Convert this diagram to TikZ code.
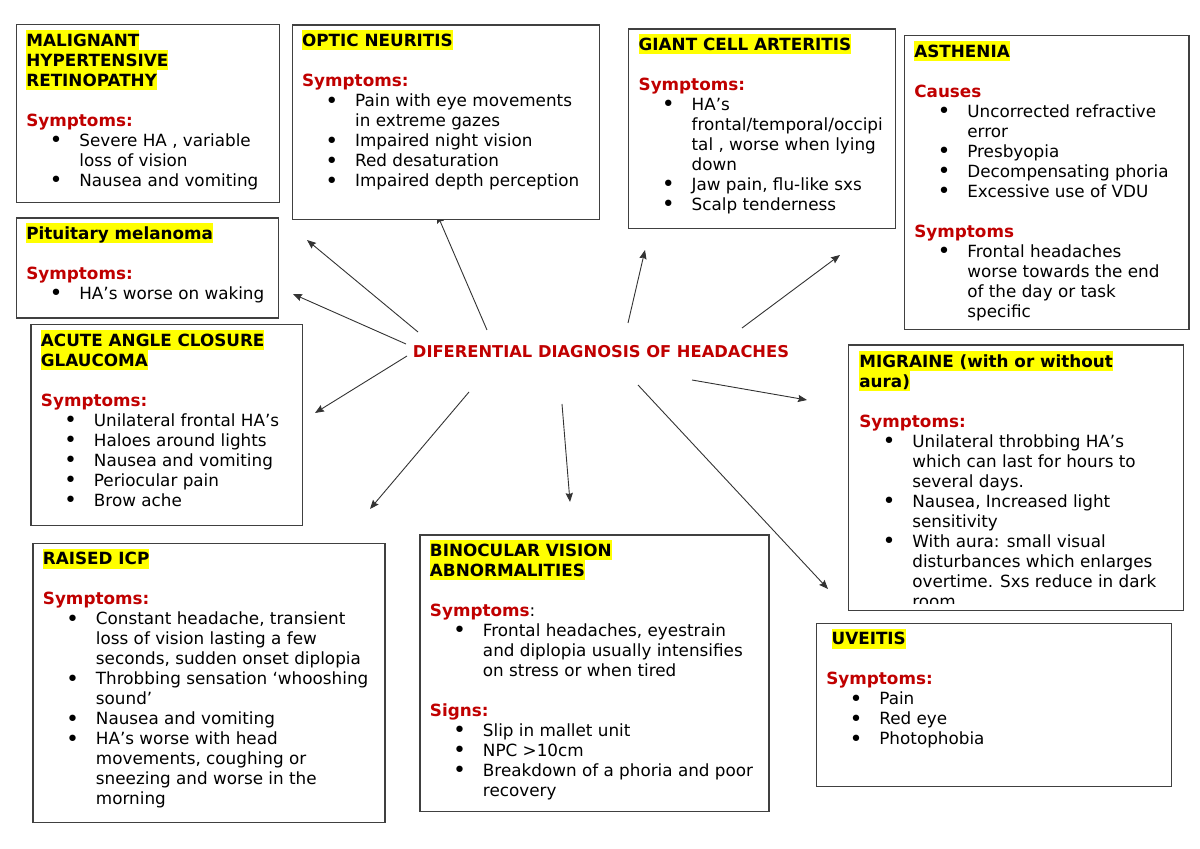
\documentclass[tikz,border=0pt]{standalone}
\usepackage{fontspec}
\setmainfont{DejaVu Sans}
\usepackage{xcolor}
\usetikzlibrary{arrows.meta,backgrounds}

\definecolor{hred}{RGB}{192,0,0}
\definecolor{hyel}{RGB}{255,255,0}
\definecolor{edge}{RGB}{64,64,64}
\setlength{\fboxsep}{0pt}

\newcommand{\hl}[1]{\colorbox{hyel}{\rule[-1.9pt]{0pt}{10pt}\bfseries #1}}
\newcommand{\sub}[1]{\textcolor{hred}{\bfseries #1}}
\newcommand{\itm}{\par\hangindent=26.5pt\hangafter=1\noindent
  \hbox to 26.5pt{\hskip 11.6pt\raisebox{-0.7pt}{\fontsize{11}{10}\selectfont\textbullet}\hss}}
\newcommand{\gap}{\par\vskip 10pt\noindent}
\newcommand{\card}[3]{\begin{minipage}[t][#2][t]{#1}\rightskip=0pt plus 1fil minus 40pt\relax\noindent #3\end{minipage}}

\tikzset{card/.style={draw=edge, line width=0.65pt, fill=white, anchor=north west,
    inner xsep=5pt, inner ysep=2.65pt, font=\fontsize{8.4}{10}\selectfont},
  arr/.style={->, draw=black!80, line width=0.45pt}}

\begin{document}
\begin{tikzpicture}[x=0.5pt, y=-0.5pt, >={Stealth[length=4.5pt,width=3.6pt,inset=0.6pt]}]
\useasboundingbox (0,0) rectangle (1200,849);

% title
\node[font=\fontsize{8.15}{10}\selectfont\bfseries, text=hred, inner sep=0pt] (title) at (601,352)
  {DIFERENTIAL DIAGNOSIS OF HEADACHES};

% top row
\node[card] (mal) at (15.7,24) {\card{121.5pt}{83.7pt}{%
\hl{MALIGNANT}\\\hl{HYPERTENSIVE}\\\hl{RETINOPATHY}\gap
\sub{Symptoms:}
\itm Severe HA , variable\\loss of vision
\itm Nausea and vomiting}};

\node[card] (opt) at (291.5,24.5) {\card{143.75pt}{91.95pt}{%
\hl{OPTIC NEURITIS}\gap
\sub{Symptoms:}
\itm Pain with eye movements\\in extreme gazes
\itm Impaired night vision
\itm Red desaturation
\itm Impaired depth perception}};

\node[card] (gca) at (628,28.3) {\card{123.5pt}{94.4pt}{%
\hl{GIANT CELL ARTERITIS}\gap
\sub{Symptoms:}
\itm HA’s\\frontal/temporal/occipi\\tal , worse when lying\\down
\itm Jaw pain, flu-like sxs
\itm Scalp tenderness}};

\node[card] (ast) at (903.7,35) {\card{132.3pt}{141.7pt}{%
\hl{ASTHENIA}\gap
\sub{Causes}
\itm Uncorrected refractive\\error
\itm Presbyopia
\itm Decompensating phoria
\itm Excessive use of VDU\gap
\sub{Symptoms}
\itm Frontal headaches\\worse towards the end\\of the day or task\\specific}};

% left column
\node[card] (pit) at (15.7,217.3) {\card{121pt}{44.7pt}{%
\hl{Pituitary melanoma}\gap
\sub{Symptoms:}
\itm HA’s worse on waking}};

\node[card] (aac) at (30.3,324) {\card{125.7pt}{95.2pt}{%
\hl{ACUTE ANGLE CLOSURE}\\\hl{GLAUCOMA}\gap
\sub{Symptoms:}
\itm Unilateral frontal HA’s
\itm Haloes around lights
\itm Nausea and vomiting
\itm Periocular pain
\itm Brow ache}};

% bottom row
\node[card] (icp) at (32.3,542.7) {\card{166pt}{134.35pt}{%
\hl{RAISED ICP}\gap
\sub{Symptoms:}
\itm Constant headache, transient\\loss of vision lasting a few\\seconds, sudden onset diplopia
\itm Throbbing sensation ‘whooshing\\sound’
\itm Nausea and vomiting
\itm HA’s worse with head\\movements, coughing or\\sneezing and worse in the\\morning}};

\node[card] (bva) at (419.3,534.3) {\card{164.5pt}{132.8pt}{%
\hl{BINOCULAR VISION}\\\hl{ABNORMALITIES}\gap
\sub{Symptoms}:
\itm Frontal headaches, eyestrain\\and diplopia usually intensifies\\on stress or when tired\gap
\sub{Signs:}
\itm Slip in mallet unit
\itm NPC >10cm
\itm Breakdown of a phoria and poor\\recovery}};

% right column, text cut off at the bottom
\begin{scope}
\clip (848,344.3) rectangle (1183,603.5);
\node[card, draw=none] (mig) at (848.7,345) {\card{156.8pt}{126.85pt}{%
\hl{MIGRAINE (with or without}\\\hl{aura)}\gap
\sub{Symptoms:}
\itm Unilateral throbbing HA’s\\which can last for hours to\\several days.
\itm Nausea, Increased light\\sensitivity
\itm With aura: small visual\\disturbances which enlarges\\overtime. Sxs reduce in dark\\room}};
\end{scope}
\draw[edge, line width=0.65pt] (mig.north west) rectangle (mig.south east);

\node[card] (uve) at (815.7,622.7) {\card{167.5pt}{76.2pt}{%
\hspace*{2.65pt}\hl{UVEITIS}\gap
\sub{Symptoms:}
\itm Pain
\itm Red eye
\itm Photophobia}};

% arrows
\coordinate (mal-s) at (418,332); \coordinate (mal-t) at (307,240);
\coordinate (pit-s) at (406,344); \coordinate (pit-t) at (293,294);
\coordinate (opt-s) at (487,330); \coordinate (opt-t) at (437,214);
\coordinate (gca-s) at (628,323); \coordinate (gca-t) at (645,250);
\coordinate (ast-s) at (742,328); \coordinate (ast-t) at (840,255);
\coordinate (mig-s) at (692,380); \coordinate (mig-t) at (807,400);
\coordinate (uve-s) at (638,385); \coordinate (uve-t) at (828,589);
\coordinate (bva-s) at (562,404); \coordinate (bva-t) at (570,502);
\coordinate (icp-s) at (469,392); \coordinate (icp-t) at (370,509);
\coordinate (aac-s) at (407,356); \coordinate (aac-t) at (315,413);
\begin{scope}[on background layer]
\foreach \b in {mal,pit,opt,gca,ast,mig,uve,bva,icp,aac}
  \draw[arr] (\b-s) -- (\b-t);
\end{scope}
\end{tikzpicture}
\end{document}
